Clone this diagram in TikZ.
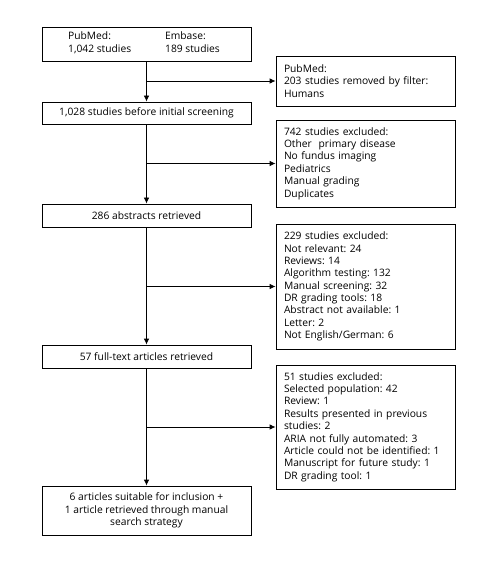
\documentclass[tikz,border=0pt]{standalone}
\usepackage{fontspec}
\setmainfont{Open Sans}
\frenchspacing
\usetikzlibrary{arrows.meta}
\begin{document}
\begin{tikzpicture}[x=1bp,y=-1bp,
  box/.style={draw,line width=0.8pt,inner sep=0pt,font=\fontsize{10.3}{12.4}\selectfont},
  lbox/.style={box,minimum width=209bp,align=center},
  rbox/.style={box,minimum width=179bp,text width=163bp,align=left},
  arr/.style={line width=0.8pt,-{Latex[length=6bp,width=5.5bp]}},
  ln/.style={line width=0.8pt}]
\useasboundingbox (0,0) rectangle (499,562);
\node[lbox,minimum height=34bp] (b1) at (146.5,44) {};
\node[font=\fontsize{10.3}{13}\selectfont,align=left,anchor=west,inner sep=0pt] (pm) at (68,42.5) {PubMed:\\1,042 studies};
\node[font=\fontsize{10.3}{13}\selectfont,align=left,anchor=west,inner sep=0pt] (em) at (165,42.5) {Embase:\\189 studies};
\node[lbox,minimum height=22bp] (b2) at (146.5,113) {1,028 studies before initial screening};
\node[lbox,minimum height=23bp] (b3) at (146.5,215.5) {286 abstracts retrieved};
\node[lbox,minimum height=23bp] (b4) at (146.5,356.5) {57 full-text articles retrieved};
\node[lbox,minimum height=49bp] (b5) at (146.5,510.5) {6 articles suitable for inclusion +\\1 article retrieved through manual\\search strategy};
\node[rbox,minimum height=50bp] (r1) at (365.5,81) {PubMed:\\203 studies removed by filter:\\Humans};
\node[rbox,minimum height=87bp] (r2) at (365.5,163.5) {742 studies excluded:\\Other\ \ primary disease\\No fundus imaging\\Pediatrics\\Manual grading\\Duplicates};
\node[rbox,minimum height=125bp] (r3) at (365.5,286.5) {229 studies excluded:\\Not relevant: 24\\Reviews: 14\\Algorithm testing: 132\\Manual screening: 32\\DR grading tools: 18\\Abstract not available: 1\\Letter: 2\\Not English/German: 6};
\node[rbox,minimum height=124bp] (r4) at (365.5,427) {51 studies excluded:\\Selected population: 42\\Review: 1\\Results presented in previous\\studies: 2\\ARIA not fully automated: 3\\Article could not be identified: 1\\Manuscript for future study: 1\\DR grading tool: 1};
\draw[arr] (b1) -- (b2);
\draw[arr] (b2) -- (b3);
\draw[arr] (b3) -- (b4);
\draw[arr] (b4) -- (b5);
\draw[arr] (b1.south |- r1.west) -- (r1.west);
\draw[arr] (b2.south |- r2.west) -- (r2.west);
\draw[arr] (b3.south |- r3.west) -- (r3.west);
\draw[arr] (b4.south |- r4.west) -- (r4.west);
\end{tikzpicture}
\end{document}
